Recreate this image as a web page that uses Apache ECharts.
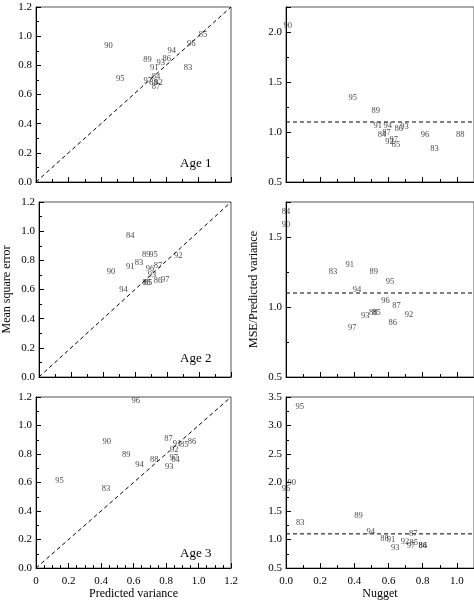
<!DOCTYPE html>
<html><head><meta charset="utf-8">
<script src="https://cdn.jsdelivr.net/npm/echarts@6/dist/echarts.min.js"></script>
<style>html,body{margin:0;background:#fff}#c{width:474px;height:601px}</style>
</head><body><div id="c"></div>
<script>
// [label, x, y]
const age1Var = [["90",0.446,0.935],["89",0.686,0.836],["95",0.518,0.707],["91",0.727,0.786],["93",0.768,0.82],["86",0.805,0.843],["94",0.836,0.903],["83",0.935,0.783],["96",0.955,0.945],["85",1.027,1.009],["84",0.738,0.721],["97",0.688,0.694],["88",0.723,0.68],["92",0.754,0.68],["87",0.738,0.652]];
const age1Nug = [["90",0.01,2.06],["95",0.39,1.339],["89",0.525,1.208],["91",0.537,1.067],["94",0.596,1.067],["87",0.588,0.997],["84",0.561,0.97],["86",0.659,1.034],["93",0.694,1.05],["97",0.631,0.926],["92",0.606,0.899],["85",0.643,0.876],["96",0.814,0.973],["83",0.869,0.836],["88",1.02,0.973]];
const age2Var = [["84",0.571,0.97],["89",0.67,0.841],["95",0.715,0.841],["92",0.871,0.834],["83",0.625,0.786],["91",0.571,0.758],["90",0.45,0.724],["96",0.694,0.74],["87",0.744,0.76],["93",0.707,0.698],["94",0.528,0.599],["86",0.744,0.657],["97",0.789,0.668],["88",0.672,0.647],["85",0.682,0.643]];
const age2Nug = [["84",0.0,1.678],["90",0.0,1.589],["91",0.373,1.30],["83",0.275,1.25],["89",0.514,1.25],["95",0.608,1.18],["94",0.416,1.12],["96",0.582,1.048],["87",0.647,1.007],["93",0.463,0.94],["88",0.51,0.959],["85",0.53,0.959],["92",0.72,0.945],["86",0.624,0.885],["97",0.388,0.851]];
const age3Var = [["96",0.614,1.175],["90",0.436,0.886],["87",0.816,0.906],["91",0.867,0.872],["85",0.912,0.867],["86",0.96,0.883],["92",0.851,0.831],["89",0.555,0.792],["94",0.637,0.725],["88",0.727,0.757],["93",0.82,0.711],["97",0.847,0.776],["84",0.859,0.762],["95",0.144,0.61],["83",0.431,0.558]];
const age3Nug = [["95",0.08,3.33],["90",0.033,2.0],["96",0.0,1.89],["83",0.084,1.29],["89",0.424,1.41],["94",0.496,1.14],["87",0.745,1.11],["88",0.576,1.02],["91",0.614,0.99],["93",0.639,0.85],["92",0.696,0.97],["85",0.747,0.95],["97",0.731,0.90],["86",0.80,0.90],["84",0.80,0.90]];
const ageLabels = ["Age 1","Age 2","Age 3"];
const nugYMax = [2.25,1.75,3.5];
const nugYInterval = [0.5,0.5,0.5];
const refLine = 1.1;

const F = "Liberation Serif";
const tops = [7,202,397], h = 175;
const grid=[],xAxis=[],yAxis=[],series=[],graphic=[];
const varSets=[age1Var,age2Var,age3Var], nugSets=[age1Nug,age2Nug,age3Nug];
function ax(bottom, extra){
  return Object.assign({axisLine:{onZero:false,lineStyle:{color:'#000',width:1}},
    axisTick:{inside:true,length:5,lineStyle:{color:'#000'}},
    minorTick:{show:true,splitNumber:2,length:3,lineStyle:{color:'#000'}},
    splitLine:{show:false},
    axisLabel:{show:bottom,color:'#000',fontFamily:F,fontSize:11}},extra);
}
for(let i=0;i<3;i++){
  const bottom=i===2;
  grid.push({left:36,width:195,top:tops[i],height:h,show:true,borderColor:'#555',borderWidth:1});
  grid.push({left:286,width:188,top:tops[i],height:h,show:true,borderColor:'#555',borderWidth:1});
  xAxis.push(ax(bottom,{gridIndex:2*i,min:0,max:1.2,interval:0.2,
    minorTick:{show:true,splitNumber:bottom?4:2,length:3,lineStyle:{color:'#000'}},
    name:bottom?'Predicted variance':'',nameLocation:'middle',nameGap:18,nameTextStyle:{fontFamily:F,fontSize:12,color:'#000'},
    axisLabel:{show:bottom,color:'#000',fontFamily:F,fontSize:11,formatter:v=>v===0?'0':v.toFixed(1)}}));
  xAxis.push(ax(bottom,{gridIndex:2*i+1,min:0,max:1.1,interval:0.2,
    name:bottom?'Nugget':'',nameLocation:'middle',nameGap:18,nameTextStyle:{fontFamily:F,fontSize:12,color:'#000'},
    axisLabel:{show:bottom,showMaxLabel:false,color:'#000',fontFamily:F,fontSize:11,formatter:v=>v.toFixed(1)}}));
  yAxis.push(ax(true,{gridIndex:2*i,min:0,max:1.2,interval:0.2,
    name:i===1?'Mean square error':'',nameLocation:'middle',nameGap:26,nameTextStyle:{fontFamily:F,fontSize:12,color:'#000'},
    axisLabel:{color:'#000',fontFamily:F,fontSize:11,margin:4,formatter:v=>v.toFixed(1)}}));
  yAxis.push(ax(true,{gridIndex:2*i+1,min:0.5,max:nugYMax[i],interval:nugYInterval[i],
    name:i===1?'MSE/Predicted variance':'',nameLocation:'middle',nameGap:26,nameTextStyle:{fontFamily:F,fontSize:12,color:'#000'},
    axisLabel:{color:'#000',fontFamily:F,fontSize:11,margin:4,formatter:v=>v.toFixed(1),showMaxLabel:i===2}}));
  const lbl={show:true,position:'inside',formatter:p=>p.data[2],fontFamily:F,fontSize:8.5,color:'#111'};
  series.push({type:'scatter',xAxisIndex:2*i,yAxisIndex:2*i,symbolSize:1,itemStyle:{color:'transparent'},
    data:varSets[i].map(d=>[d[1],d[2],d[0]]),label:lbl});
  series.push({type:'scatter',xAxisIndex:2*i+1,yAxisIndex:2*i+1,symbolSize:1,itemStyle:{color:'transparent'},
    data:nugSets[i].map(d=>[d[1],d[2],d[0]]),label:lbl});
  series.push({type:'line',xAxisIndex:2*i,yAxisIndex:2*i,symbol:'none',data:[[0,0],[1.2,1.2]],
    lineStyle:{color:'#000',type:[4,3],width:1}});
  series.push({type:'line',xAxisIndex:2*i+1,yAxisIndex:2*i+1,symbol:'none',data:[[0,refLine],[1.1,refLine]],
    lineStyle:{color:'#000',type:[4,3],width:1}});
  graphic.push({type:'text',left:180,top:tops[i]+150,style:{text:ageLabels[i],font:'13px '+F,fill:'#000'}});
}
const chart=echarts.init(document.getElementById('c'));
chart.setOption({animation:false,grid,xAxis,yAxis,series,graphic});
</script></body></html>
